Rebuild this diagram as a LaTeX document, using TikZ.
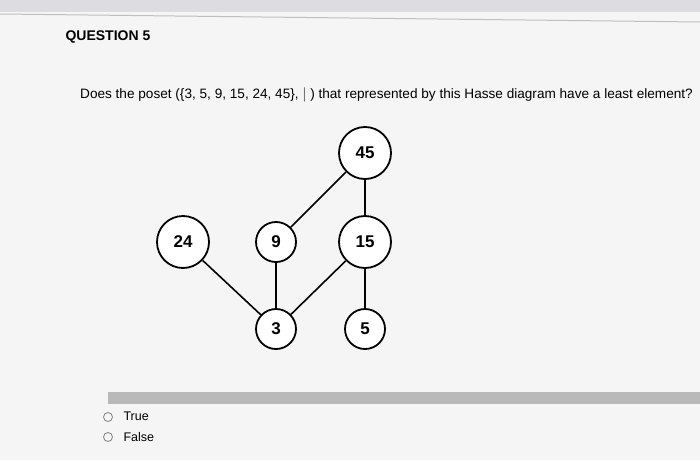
\documentclass[tikz,border=0pt]{standalone}
\usepackage{fontspec}
\setmainfont{Liberation Sans}
\begin{document}
\begin{tikzpicture}[x=1pt,y=-1pt,
  big/.style={circle,draw,line width=1.8pt,fill=white,minimum size=52pt,inner sep=0pt,font=\bfseries\fontsize{17}{17}\selectfont},
  small/.style={circle,draw,line width=1.8pt,fill=white,minimum size=40pt,inner sep=0pt,font=\bfseries\fontsize{17}{17}\selectfont},
  edge/.style={line width=1.6pt},
  radio/.style={circle,draw=gray,line width=0.8pt,minimum size=9pt,inner sep=0pt}]
\fill[gray!8] (0,0) rectangle (700,460);
\useasboundingbox (0,0) rectangle (700,460);
\fill[blue!6!gray!25] (0,0) rectangle (700,12);
\draw[gray!50,line width=1pt] (0,14) -- (700,22);
\node[anchor=west,font=\bfseries\fontsize{14}{14}\selectfont] (q) at (62,37) {QUESTION 5};
\node[anchor=west,inner sep=0pt,font=\fontsize{13.6}{15}\selectfont] (t) at (80,95) {Does the poset (\{3, 5, 9, 15, 24, 45\}, $|$ ) that represented by this Hasse diagram have a least element?};
\node[big] (n45) at (365,153) {45};
\node[big] (n24) at (183,242) {24};
\node[small] (n9) at (276,242) {9};
\node[big] (n15) at (365,242) {15};
\node[small] (n3) at (276,329) {3};
\node[small] (n5) at (365,329) {5};
\draw[edge] (n24) -- (n3);
\draw[edge] (n9) -- (n3);
\draw[edge] (n15) -- (n3);
\draw[edge] (n9) -- (n45);
\draw[edge] (n15) -- (n45);
\draw[edge] (n15) -- (n5);
\fill[gray!55] (108,392) rectangle (700,404);
\node[radio] (r1) at (108,417) {};
\node[radio] (r2) at (108,437) {};
\node[anchor=west,font=\fontsize{12.5}{12}\selectfont] (l1) at (120,416) {True};
\node[anchor=west,font=\fontsize{12.5}{12}\selectfont] (l2) at (120,437) {False};
\end{tikzpicture}
\end{document}
